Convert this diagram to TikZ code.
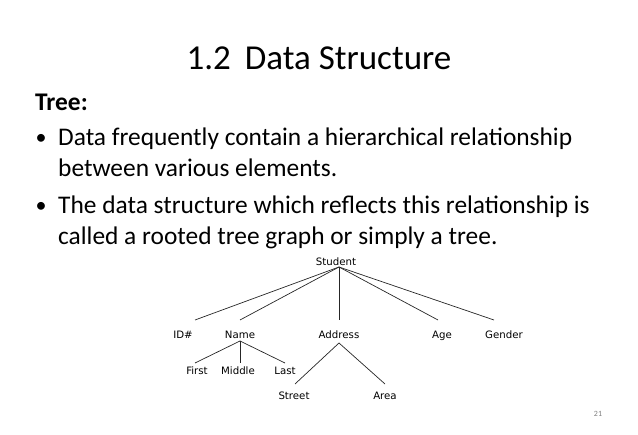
\documentclass[tikz,border=0pt]{standalone}
\usepackage{fontspec}
\setmainfont{Carlito}
\newfontfamily\treefont{DejaVu Sans}
\begin{document}
\begin{tikzpicture}[x=1pt,y=-1pt,
  body/.style={anchor=base west,inner sep=0,font=\fontsize{25.4}{30}\selectfont},
  bul/.style={anchor=base,inner sep=0,font=\fontsize{22}{25}\selectfont},
  tn/.style={inner sep=0,anchor=base,font=\treefont\fontsize{10.2}{12}\selectfont},
  edge/.style={draw=black!85,line width=0.7pt}]
\useasboundingbox (0,0) rectangle (638,435);
\node[inner sep=0,anchor=base,font=\fontsize{35}{40}\selectfont] (title) at (319,70) {1.2\hspace{0.4em}Data Structure};
\node[body,font=\bfseries\fontsize{25.4}{30}\selectfont] (tree) at (35,111) {Tree:};
\node[bul] (b1) at (41,145) {\textbullet};
\node[body] (l1) at (58,146) {Data frequently contain a hierarchical relationship};
\node[body] (l2) at (58,177) {between various elements.};
\node[bul] (b2) at (41,213) {\textbullet};
\node[body] (l3) at (58,214) {The data structure which reflects this relationship is};
\node[body] (l4) at (58,245) {called a rooted tree graph or simply a tree.};
% tree
\node[tn] (student) at (336,266) {Student};
\node[tn] (id) at (183,339) {ID\#};
\node[tn] (name) at (240,339) {Name};
\node[tn] (addr) at (339,339) {Address};
\node[tn] (age) at (442,339) {Age};
\node[tn] (gender) at (504,339) {Gender};
\node[tn] (first) at (197,375) {First};
\node[tn] (middle) at (238,375) {Middle};
\node[tn] (last) at (285,375) {Last};
\node[tn] (street) at (294,400) {Street};
\node[tn] (area) at (385,400) {Area};
\coordinate (s0) at (339,267);
\coordinate (n0) at (240,341);
\coordinate (a0) at (339,343);
\draw[edge] (s0) -- (195,320) coordinate (e1);
\draw[edge] (s0) -- (240,320) coordinate (e2);
\draw[edge] (s0) -- (339,320) coordinate (e3);
\draw[edge] (s0) -- (438,320) coordinate (e4);
\draw[edge] (s0) -- (494,320) coordinate (e5);
\draw[edge] (n0) -- (195,363) coordinate (e6);
\draw[edge] (n0) -- (240,363) coordinate (e7);
\draw[edge] (n0) -- (285,363) coordinate (e8);
\draw[edge] (a0) -- (295,384) coordinate (e9);
\draw[edge] (a0) -- (385,384) coordinate (e10);
\node[inner sep=0,font=\fontsize{8}{9}\selectfont,text=black!50] (pg) at (598,414) {21};
\end{tikzpicture}
\end{document}
